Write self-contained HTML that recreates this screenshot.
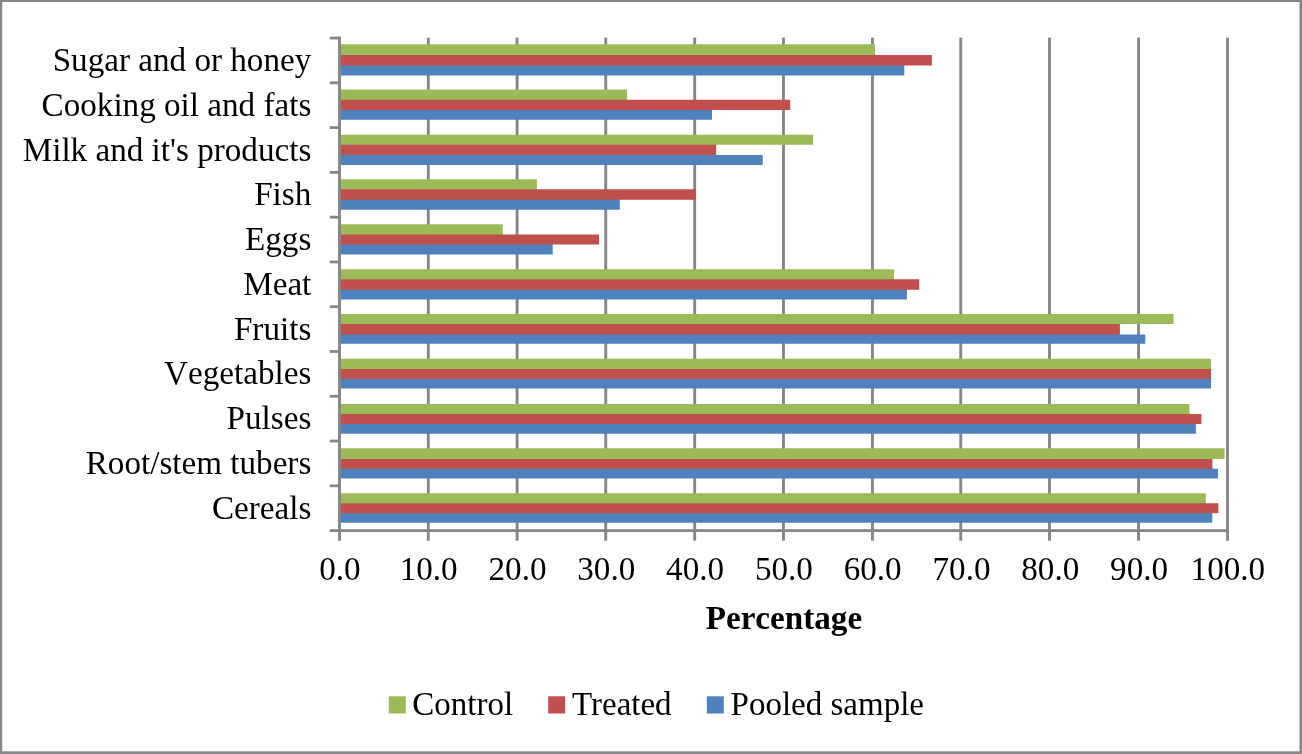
<!DOCTYPE html>
<html><head><meta charset="utf-8"><title>Chart</title>
<style>html,body{margin:0;padding:0;background:#fff}svg{display:block}text{font-family:"Liberation Serif","Times New Roman",serif;fill:#000;font-size:33.15px;font-kerning:none;font-variant-ligatures:none}</style></head><body>
<svg width="1302" height="754" viewBox="0 0 1302 754">
<rect x="0" y="0" width="1302" height="754" fill="#fff"/>
<!-- chart border -->
<g fill="#868686"><rect x="0" y="0" width="1302" height="2"/><rect x="0" y="0" width="2.2" height="754"/><rect x="1299.5" y="0" width="2.5" height="754"/><rect x="0" y="751.3" width="1302" height="2.7"/></g>
<!-- gridlines -->
<g fill="#868686">
<rect x="426.85" y="37.6" width="2.9" height="503.10"/>
<rect x="515.65" y="37.6" width="2.9" height="503.10"/>
<rect x="604.30" y="37.6" width="2.9" height="503.10"/>
<rect x="693.25" y="37.6" width="2.9" height="503.10"/>
<rect x="782.00" y="37.6" width="2.9" height="503.10"/>
<rect x="871.00" y="37.6" width="2.9" height="503.10"/>
<rect x="959.30" y="37.6" width="2.9" height="503.10"/>
<rect x="1048.05" y="37.6" width="2.9" height="503.10"/>
<rect x="1137.10" y="37.6" width="2.9" height="503.10"/>
<rect x="1226.05" y="37.6" width="2.9" height="503.10"/>
</g>
<!-- bars -->
<path d="M339.50 64.60H904.30V75.50H339.50Z" fill="#4f81bd"/>
<path d="M339.50 54.05H875.10V55.05H931.90V65.60H339.50Z" fill="#c0504d"/>
<path d="M339.50 44.30H875.10V55.05H339.50Z" fill="#9bbb59"/>
<path d="M339.50 108.90H712.00V119.80H339.50Z" fill="#4f81bd"/>
<path d="M339.50 98.70H627.10V99.70H790.20V109.90H339.50Z" fill="#c0504d"/>
<path d="M339.50 89.50H627.10V99.70H339.50Z" fill="#9bbb59"/>
<path d="M339.50 153.90H716.20V154.90H762.80V164.90H339.50Z" fill="#4f81bd"/>
<path d="M339.50 143.85H716.20V154.90H339.50Z" fill="#c0504d"/>
<path d="M339.50 134.70H813.10V144.85H339.50Z" fill="#9bbb59"/>
<path d="M339.50 198.80H619.80V209.80H339.50Z" fill="#4f81bd"/>
<path d="M339.50 188.30H536.90V189.30H696.00V199.80H339.50Z" fill="#c0504d"/>
<path d="M339.50 179.20H536.90V189.30H339.50Z" fill="#9bbb59"/>
<path d="M339.50 243.60H552.70V254.50H339.50Z" fill="#4f81bd"/>
<path d="M339.50 233.50H502.80V234.50H599.00V244.60H339.50Z" fill="#c0504d"/>
<path d="M339.50 224.30H502.80V234.50H339.50Z" fill="#9bbb59"/>
<path d="M339.50 288.80H906.90V299.55H339.50Z" fill="#4f81bd"/>
<path d="M339.50 278.30H894.00V279.30H919.30V289.80H339.50Z" fill="#c0504d"/>
<path d="M339.50 269.20H894.00V279.30H339.50Z" fill="#9bbb59"/>
<path d="M339.50 333.40H1119.90V334.40H1145.30V343.80H339.50Z" fill="#4f81bd"/>
<path d="M339.50 322.90H1119.90V334.40H339.50Z" fill="#c0504d"/>
<path d="M339.50 314.10H1173.60V323.90H339.50Z" fill="#9bbb59"/>
<path d="M339.50 378.00H1211.10V388.60H339.50Z" fill="#4f81bd"/>
<path d="M339.50 368.00H1211.10V379.00H339.50Z" fill="#c0504d"/>
<path d="M339.50 358.80H1211.10V369.00H339.50Z" fill="#9bbb59"/>
<path d="M339.50 423.00H1195.90V433.80H339.50Z" fill="#4f81bd"/>
<path d="M339.50 412.90H1189.40V413.90H1201.50V424.00H339.50Z" fill="#c0504d"/>
<path d="M339.50 404.00H1189.40V413.90H339.50Z" fill="#9bbb59"/>
<path d="M339.50 467.80H1212.40V468.80H1218.00V478.60H339.50Z" fill="#4f81bd"/>
<path d="M339.50 457.90H1212.40V468.80H339.50Z" fill="#c0504d"/>
<path d="M339.50 448.20H1224.60V458.90H339.50Z" fill="#9bbb59"/>
<path d="M339.50 512.30H1212.30V522.75H339.50Z" fill="#4f81bd"/>
<path d="M339.50 502.25H1205.80V503.25H1218.40V513.30H339.50Z" fill="#c0504d"/>
<path d="M339.50 493.25H1205.80V503.25H339.50Z" fill="#9bbb59"/>
<!-- axes -->
<g fill="#868686">
<rect x="338.05" y="36.7" width="2.9" height="504.00"/>
<rect x="329.8" y="529.20" width="899.20" height="2.80"/>
<rect x="329.8" y="36.65" width="9.70" height="2.80"/>
<rect x="329.8" y="81.43" width="9.70" height="2.80"/>
<rect x="329.8" y="126.20" width="9.70" height="2.80"/>
<rect x="329.8" y="170.98" width="9.70" height="2.80"/>
<rect x="329.8" y="215.76" width="9.70" height="2.80"/>
<rect x="329.8" y="260.54" width="9.70" height="2.80"/>
<rect x="329.8" y="305.31" width="9.70" height="2.80"/>
<rect x="329.8" y="350.09" width="9.70" height="2.80"/>
<rect x="329.8" y="394.87" width="9.70" height="2.80"/>
<rect x="329.8" y="439.64" width="9.70" height="2.80"/>
<rect x="329.8" y="484.42" width="9.70" height="2.80"/>
</g>
<!-- category labels -->
<g text-anchor="end">
<text x="311.3" y="71.00">Sugar and or honey</text>
<text x="311.3" y="115.77">Cooking oil and fats</text>
<text x="311.3" y="160.54">Milk and it's products</text>
<text x="311.3" y="205.31">Fish</text>
<text x="311.3" y="250.08">Eggs</text>
<text x="311.3" y="294.85">Meat</text>
<text x="311.3" y="339.62">Fruits</text>
<text x="311.3" y="384.39">Vegetables</text>
<text x="311.3" y="429.16">Pulses</text>
<text x="311.3" y="473.93">Root/stem tubers</text>
<text x="311.3" y="518.70">Cereals</text>
</g>
<!-- value axis labels -->
<g text-anchor="middle">
<text x="339.90" y="580.3">0.0</text>
<text x="428.70" y="580.3">10.0</text>
<text x="517.50" y="580.3">20.0</text>
<text x="606.30" y="580.3">30.0</text>
<text x="695.10" y="580.3">40.0</text>
<text x="783.90" y="580.3">50.0</text>
<text x="872.70" y="580.3">60.0</text>
<text x="961.50" y="580.3">70.0</text>
<text x="1050.30" y="580.3">80.0</text>
<text x="1139.10" y="580.3">90.0</text>
<text x="1227.90" y="580.3">100.0</text>
</g>
<text x="783.9" y="628.5" font-weight="bold" text-anchor="middle">Percentage</text>
<!-- legend -->
<rect x="388.8" y="696.3" width="17" height="17.2" fill="#9bbb59"/><text x="412.3" y="715.4" style="font-size:33px;font-kerning:normal">Control</text>
<rect x="548.2" y="696.3" width="17" height="17.2" fill="#c0504d"/><text x="572.0" y="715.4" style="font-size:33px;font-kerning:normal">Treated</text>
<rect x="706.8" y="696.3" width="17" height="17.2" fill="#4f81bd"/><text x="730.6" y="715.4" style="font-size:33px;font-kerning:normal">Pooled sample</text>
</svg></body></html>
